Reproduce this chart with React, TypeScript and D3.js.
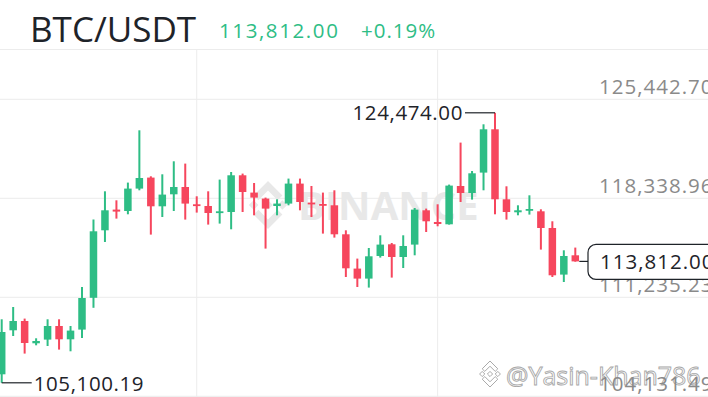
import React, { useRef, useEffect } from 'react';
import * as d3 from 'd3';

// OHLC values, oldest first
const opens = [105710, 108868, 109535, 107935, 108200, 109176, 108222, 108918, 111200, 116043, 117528, 117428, 119035, 119825, 117765, 118626, 119150, 117909, 117787, 117284, 117356, 119990, 118748, 118318, 117787, 117959, 119394, 118031, 117930, 117837, 115756, 113295, 112577, 114199, 115039, 114127, 115017, 117478, 116639, 116474, 119222, 118720, 120183, 123290, 118267, 117335, 117457, 117406, 116208, 112864, 114249];
const highs = [109657, 110539, 109707, 108294, 109657, 109657, 109176, 111975, 116818, 118841, 118195, 119466, 123218, 119918, 120061, 120994, 120829, 118483, 118841, 119681, 120226, 120112, 119437, 118389, 118267, 119753, 119753, 119222, 118748, 118913, 116043, 114012, 114773, 115684, 115132, 115684, 117643, 117600, 117909, 119322, 122336, 120298, 123649, 124474, 119200, 117837, 118554, 117550, 116689, 114608, 114802];
const lows = [105100.19, 108459, 107196, 107791, 107741, 107483, 107361, 108315, 110482, 115204, 116882, 117191, 118913, 115734, 116997, 117428, 116811, 117313, 116452, 116524, 116115, 117356, 117119, 114730, 117119, 117837, 117478, 116997, 115806, 115519, 112692, 111975, 111932, 114084, 112649, 113338, 114249, 115921, 116330, 116452, 118074, 118246, 118913, 117191, 116811, 117119, 117170, 114658, 112692, 112333, 113790];
const closes = [108745, 109535, 107956, 108100, 109176, 108222, 108846, 111185, 115971, 117478, 117385, 119035, 119796, 117765, 118605, 119150, 117959, 117815, 117284, 117406, 119990, 118791, 118389, 117600, 117959, 119394, 118074, 117930, 117837, 115756, 113316, 112577, 114177, 115017, 114127, 114917, 117528, 116689, 116495, 119251, 118720, 120133, 123290, 118267, 117356, 117478, 117571, 116208, 112814, 114199, 113812];

const gridPrices = [125442.70, 118338.96, 111235.23, 104131.49];
const gridCandles = [17, 38];
const symbol = 'BTC/USDT';
const lastPrice = 113812.0;
const changePct = 0.19;
const handle = '@Yasin-Khan786';

const W = 708;
const H = 397;
const GREEN = '#2EBD85';
const RED = '#F6465D';
const FONT = "'Open Sans', sans-serif";

// binance mark in unit coords
const logoParts = [
  [[0, -0.2], [0.2, 0], [0, 0.2], [-0.2, 0]],
  [[-0.6, -0.2], [-0.4, 0], [-0.6, 0.2], [-0.8, 0]],
  [[0.6, -0.2], [0.8, 0], [0.6, 0.2], [0.4, 0]],
  [[-0.6, -0.4], [0, -1], [0.6, -0.4], [0.4, -0.2], [0, -0.6], [-0.4, -0.2]],
  [[-0.6, 0.4], [0, 1], [0.6, 0.4], [0.4, 0.2], [0, 0.6], [-0.4, 0.2]],
];

const App = () => {
  const svgRef = useRef<SVGSVGElement>(null);

  useEffect(() => {
    if (!svgRef.current) return;
    const svg = d3.select(svgRef.current);
    svg.selectAll('*').remove();

    const fmt = d3.format(',.2f');
    const x = d3.scaleLinear().domain([0, opens.length - 1]).range([1.7, 575.3]);
    const y = d3.scaleLinear().domain([104131.49, 125442.70]).range([396.3, 99.3]);
    const idx = d3.range(opens.length);

    svg.append('rect').attr('width', W).attr('height', H).attr('fill', '#fff');

    // header
    svg.append('text').attr('x', 30).attr('y', 42).text(symbol)
      .style('font-family', FONT).style('font-size', '35px').attr('fill', '#1e2329');
    svg.append('text').attr('x', 219).attr('y', 37.5).text(fmt(lastPrice))
      .style('font-family', FONT).style('font-size', '20.5px').style('letter-spacing', '1.6px').attr('fill', GREEN);
    svg.append('text').attr('x', 361).attr('y', 37.5).text(`+${changePct.toFixed(2)}%`)
      .style('font-family', FONT).style('font-size', '20.5px').style('letter-spacing', '1px').attr('fill', GREEN);

    // grid
    const grid = svg.append('g').attr('stroke', '#ececec').attr('stroke-width', 1);
    grid.append('line').attr('x1', 0).attr('x2', W).attr('y1', 49.5).attr('y2', 49.5);
    grid.selectAll('.h').data(gridPrices).enter().append('line')
      .attr('x1', 0).attr('x2', W).attr('y1', d => y(d)).attr('y2', d => y(d));
    grid.selectAll('.v').data(gridCandles).enter().append('line')
      .attr('x1', d => x(d)).attr('x2', d => x(d)).attr('y1', 49.5).attr('y2', H);

    // watermark
    const logo = (cx: number, cy: number, s: number) =>
      logoParts.map(p => 'M' + p.map(([a, b]) => `${cx + a * s},${cy + b * s}`).join('L') + 'Z').join('');
    svg.append('path').attr('d', logo(268, 205, 24)).attr('fill', '#e8e8e8');
    svg.append('text').attr('x', 298).attr('y', 220).text('BINANCE')
      .style('font-family', FONT).style('font-size', '40px').style('font-weight', 700)
      .attr('fill', '#e8e8e8');

    // candles
    const c = svg.append('g');
    const col = (i: number) => (closes[i] >= opens[i] ? GREEN : RED);
    c.selectAll('.wick').data(idx).enter().append('rect')
      .attr('x', i => x(i) - 1).attr('width', 2)
      .attr('y', i => y(highs[i])).attr('height', i => y(lows[i]) - y(highs[i]))
      .attr('fill', col);
    c.selectAll('.body').data(idx).enter().append('rect')
      .attr('x', i => x(i) - 3.75).attr('width', 7.5)
      .attr('y', i => y(Math.max(opens[i], closes[i])))
      .attr('height', i => Math.max(1.8, Math.abs(y(opens[i]) - y(closes[i]))))
      .attr('fill', col);

    // high / low markers
    const hi = d3.maxIndex(highs);
    const lo = d3.minIndex(lows);
    svg.append('line').attr('x1', x(hi) - 30).attr('x2', x(hi)).attr('y1', y(highs[hi])).attr('y2', y(highs[hi]))
      .attr('stroke', '#1e2329').attr('stroke-width', 1.2);
    svg.append('text').attr('x', x(hi) - 32).attr('y', y(highs[hi]) + 7.5).attr('text-anchor', 'end')
      .text(fmt(highs[hi])).style('font-family', FONT).style('font-size', '20.5px').style('letter-spacing', '0.6px')
      .attr('fill', '#1e2329');
    svg.append('line').attr('x1', x(lo)).attr('x2', x(lo) + 30).attr('y1', y(lows[lo])).attr('y2', y(lows[lo]))
      .attr('stroke', '#1e2329').attr('stroke-width', 1.2);
    svg.append('text').attr('x', x(lo) + 32).attr('y', y(lows[lo]) + 8)
      .text(fmt(lows[lo])).style('font-family', FONT).style('font-size', '20.5px').style('letter-spacing', '0.6px')
      .attr('fill', '#1e2329');

    // handle watermark
    svg.append('path').attr('d', logo(490, 374, 13)).attr('fill', '#fff').attr('stroke', '#aaa').attr('stroke-width', 1);
    svg.append('text').attr('x', 506).attr('y', 385).text(handle)
      .style('font-family', FONT).style('font-size', '25px')
      .attr('fill', '#fff').attr('stroke', '#a8a8a8').attr('stroke-width', 0.9);

    // price axis labels
    svg.selectAll('.yl').data(gridPrices).enter().append('text')
      .attr('x', 599).attr('y', d => y(d) - 5).text(d => fmt(d))
      .style('font-family', FONT).style('font-size', '20.5px').style('letter-spacing', '1px')
      .attr('fill', '#8a8a8a');

    // last price tag
    const ly = y(lastPrice);
    svg.append('line').attr('x1', x(opens.length - 1) + 4).attr('x2', 588).attr('y1', ly).attr('y2', ly)
      .attr('stroke', '#1e2329').attr('stroke-width', 1.2);
    svg.append('rect').attr('x', 588).attr('y', ly - 17).attr('width', 140).attr('height', 35).attr('rx', 8)
      .attr('fill', '#fff').attr('stroke', '#1e2329').attr('stroke-width', 1.2);
    svg.append('text').attr('x', 600).attr('y', ly + 8).text(fmt(lastPrice))
      .style('font-family', FONT).style('font-size', '20.5px').style('letter-spacing', '1px')
      .attr('fill', '#1e2329');
  }, []);

  return <svg ref={svgRef} width={W} height={H} style={{ position: 'absolute', left: 0, top: 0 }} />;
};

export default App;
